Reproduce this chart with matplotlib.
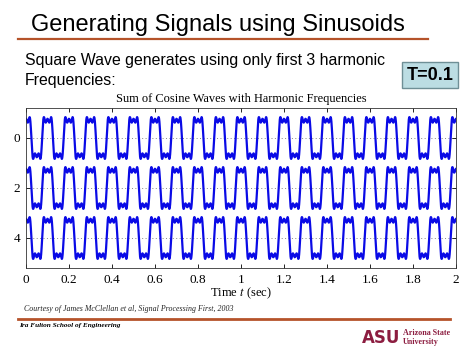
import numpy as np
import matplotlib
matplotlib.use("Agg")
import matplotlib.pyplot as plt
from matplotlib.patches import FancyBboxPatch
from matplotlib.lines import Line2D

plt.rcParams["mathtext.fontset"] = "stix"

# ---- data ----
fundamental_period = 0.1            # T = 0.1 s
harmonic_numbers = [1, 3, 5]        # first 3 (odd) harmonics of the square wave
harmonic_amplitudes = [0.89, -0.30, 0.18]   # cosine amplitudes
strip_offsets = [0, 2, 4]           # vertical position of each strip
x_ticks = [0, 0.2, 0.4, 0.6, 0.8, 1, 1.2, 1.4, 1.6, 1.8, 2]
x_tick_labels = ["0", "0.2", "0.4", "0.6", "0.8", "1", "1.2", "1.4", "1.6", "1.8", "2"]
y_ticks = [0, 2, 4]
y_tick_labels = ["0", "2", "4"]

W, H = 474, 355
fig = plt.figure(figsize=(W / 100, H / 100), dpi=100)
fig.patch.set_facecolor("white")

def fx(px):
    return px / W

def fy(py):
    return 1 - py / H

sans = ["Liberation Sans", "DejaVu Sans"]
serif = ["Liberation Serif", "DejaVu Serif"]

# ---- slide decorations ----
fig.text(fx(31), fy(25), "Generating Signals using Sinusoids", family=sans,
         fontsize=17, color="black", va="center", ha="left")
fig.add_artist(Line2D([fx(18), fx(428)], [fy(39), fy(39)], color="#b5532a", lw=1.6))

fig.text(fx(25), fy(61), "Square Wave generates using only first 3 harmonic", family=sans,
         fontsize=11.4, color="black", va="center", ha="left")
fig.text(fx(25), fy(80), "Frequencies:", family=sans,
         fontsize=11.4, color="black", va="center", ha="left")

box = FancyBboxPatch((fx(402), fy(88)), fx(56), 26 / H, boxstyle="square,pad=0",
                     transform=fig.transFigure, facecolor="#bcdde3",
                     edgecolor="#6f8f96", lw=1.0)
fig.add_artist(box)
fig.text(fx(430), fy(75), "T=0.1", family=sans, fontsize=13, fontweight="bold",
         color="black", va="center", ha="center")

# ---- chart ----
ax = fig.add_axes([fx(26), fy(268), (456 - 26) / W, (268 - 108) / H])
t = np.linspace(0, 2, 4001)
w0 = 2 * np.pi / fundamental_period
signal = np.zeros_like(t)
for k, a in zip(harmonic_numbers, harmonic_amplitudes):
    signal += a * np.cos(k * w0 * t)
for off in strip_offsets:
    ax.plot(t, off - signal, color="#0a0ae6", lw=1.6)

ax.set_xlim(0, 2)
ax.set_ylim(5.2, -1.2)
ax.set_xticks(x_ticks)
ax.set_xticklabels(x_tick_labels, family=serif, fontsize=9.5)
ax.set_yticks(y_ticks)
ax.set_yticklabels(y_tick_labels, family=serif, fontsize=9.5)
ax.tick_params(direction="in", length=3, width=0.6, top=True, right=True, pad=4)
ax.yaxis.grid(True, linestyle=(0, (1, 2.5)), color="#888888", lw=0.7)
for s in ax.spines.values():
    s.set_linewidth(0.6)
    s.set_color("#333333")
ax.set_title("Sum of Cosine Waves with Harmonic Frequencies", family=serif,
             fontsize=8.9, pad=4)
ax.set_xlabel("Time $\\mathit{t}$ (sec)", family=serif, fontsize=9, labelpad=0)

# ---- footer ----
fig.text(fx(24), fy(309), "Courtesy of James McClellan et al, Signal Processing First, 2003",
         family=serif, fontstyle="italic", fontsize=5.7, color="#222222",
         va="center", ha="left")
fig.add_artist(Line2D([fx(18), fx(450)], [fy(319), fy(319)], color="#b5532a", lw=2.0))
fig.text(fx(19), fy(326), "Ira Fulton School of Engineering", family=serif,
         fontstyle="italic", fontweight="bold", fontsize=5.2, color="black",
         va="center", ha="left")
fig.text(fx(381), fy(338), "ASU", family=["DejaVu Sans"], fontweight="heavy",
         fontsize=12, color="#8c1d40", va="center", ha="center")
fig.text(fx(403), fy(333), "Arizona State", family=serif, fontweight="bold",
         fontsize=5.8, color="#8c1d40", va="center", ha="left")
fig.text(fx(403), fy(342), "University", family=serif, fontweight="bold",
         fontsize=5.8, color="#8c1d40", va="center", ha="left")

fig.savefig("out.png", dpi=100)
